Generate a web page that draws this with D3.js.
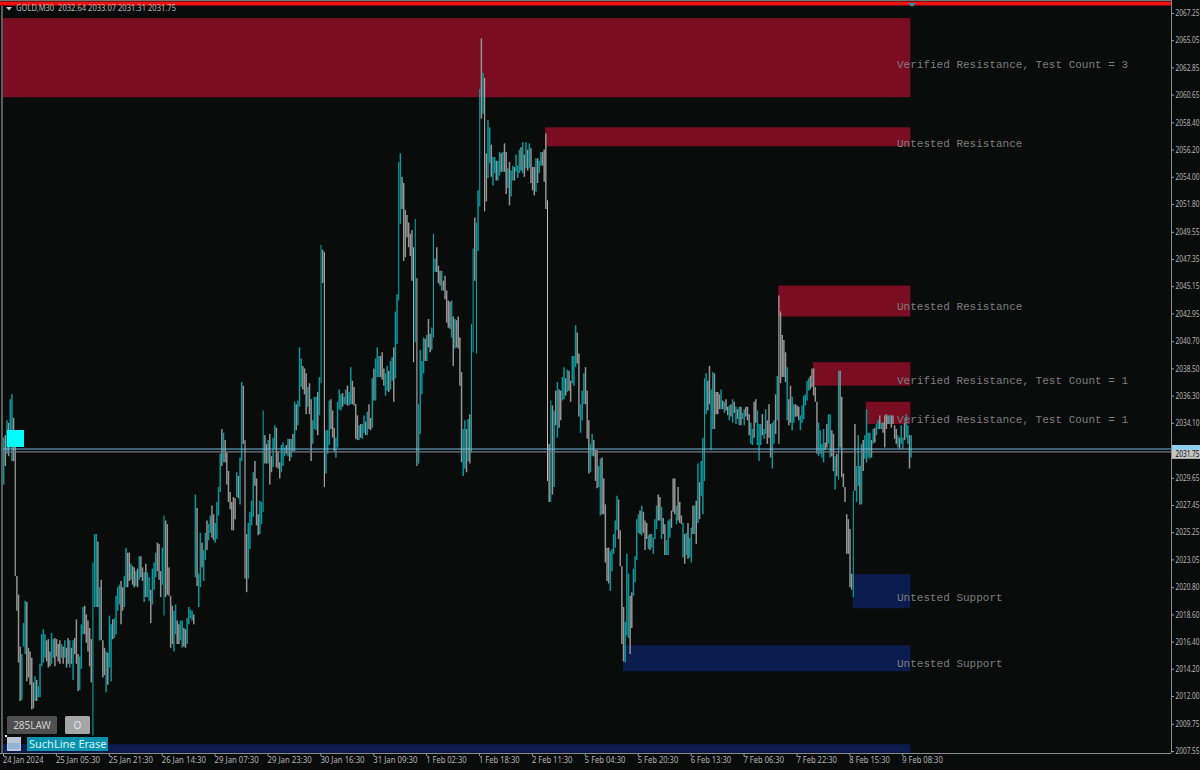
<!DOCTYPE html>
<html><head><meta charset="utf-8">
<script src="https://cdn.jsdelivr.net/npm/d3@7"></script>
<style>
html,body{margin:0;padding:0;background:#0a0c0c;overflow:hidden}
svg{display:block}
.tk text{font-family:"Noto Sans",sans-serif;font-size:8.6px;fill:#b4b4b4}
.zl{font-family:"Liberation Mono",monospace;font-size:11px;fill:#7d7d7d}
</style></head><body>
<script>
// Prices are stored as offsets above this base
const priceBase = 2000;
const symbolLine = "GOLD,M30  2032.64 2033.07 2031.31 2031.75";
const bidPrice = 2031.75, askPrice = 2031.98;

const highsA=[32.9,33.1,34.3,34.1,36.0,36.4,34.5,33.2,21.7,20.2,16.0,15.4,17.9,19.7,19.6,15.9,15.6,15.1,13.1,13.6,13.3,12.8,14.6,17.0,17.4,17.0,16.5,16.6,15.6,17.1,16.6,16.7,16.6,16.2,16.5,16.2,16.0,16.5,15.9,16.7,16.5,15.9,16.5,16.7,18.2,15.4,15.2,17.8,19.2,19.3,18.6,18.1,17.5,16.6,22.8,25.1,25.1,24.5,20.8,21.4,16.5,15.9,15.6,15.5,18.5,17.8,18.2,18.3,20.1,20.8,21.0,21.3,20.8,21.7,24.0,23.6,23.6,22.7,22.5,22.4,22.1,22.3,23.3,23.3,22.4,22.0,22.7,22.0,21.6,20.6,22.3,22.8,23.6,24.4,24.3,22.1,24.0,26.6,26.2,25.9,22.4,20.1,19.3,18.9,19.4,18.1,17.8,18.1,18.1,17.5,17.4,18.3,19.2,19.0,18.9,18.6,28.3,27.2,21.9];
const lowsA=[29.1,30.6,31.6,31.4,32.1,31.0,31.0,21.7,18.9,14.7,11.6,11.7,16.0,15.4,13.2,13.5,12.9,10.9,11.0,11.6,11.6,11.9,11.9,14.4,14.7,15.1,14.8,14.3,14.4,14.6,15.1,14.4,15.2,14.8,14.6,15.1,14.6,15.1,14.3,14.6,14.3,14.6,13.3,15.4,14.6,12.4,12.5,14.2,17.0,17.0,16.3,15.6,14.4,13.1,8.8,19.2,19.2,19.2,16.5,16.5,13.5,13.7,12.3,12.9,14.3,13.2,16.6,16.7,17.0,18.9,19.4,17.8,18.9,19.2,20.8,20.8,21.3,21.4,21.0,20.8,20.9,20.8,21.4,21.6,21.3,19.6,20.0,20.0,19.7,17.9,19.4,20.6,21.6,22.1,21.4,20.0,21.0,18.5,20.0,20.2,20.1,15.9,16.2,15.6,17.0,16.2,16.2,16.5,15.9,16.0,15.9,16.2,17.8,18.3,18.1,17.8,21.6,20.9,19.2];
const dirsA="u d u d u u d d d d d u u u d d d d d u d u u u u u d d d u u d d d d u d u d d u d u d d d u u u d d d d d u u u d u d d d u d u u d u u u u d d u u d d u d d u d u d d u d u u d u u u d d d u u d d d d d u u d d u u d d u u u u d u d u".split(" ");

const highsB=[25.2,24.4,23.8,25.2,26.2,25.9,26.6,27.4,26.7,26.0,27.7,28.9,31.6,33.6,33.3,32.7,31.7,30.2,28.5,27.7,28.1,28.0,30.1,29.8,31.3,37.4,37.1,32.7,25.1,26.0,26.9,27.8,30.1,31.0,29.6,26.7,27.8,27.7,35.1,33.1,32.4,32.7,33.2,31.4,32.9,33.9,33.7,31.8,30.9,32.3,32.5,32.1,32.3,32.8,32.8,32.8,33.2,35.8,35.6,35.9,40.2,39.3,38.7,38.5,38.1,37.0,37.3,36.0,34.3,36.2,36.2,36.6,37.8,48.5,48.1,47.9,33.5,33.5,35.9,36.0,35.1,33.7,32.9,35.8,36.8,36.4,36.5,36.2,36.8,37.1,36.6,38.6,37.5,37.0,35.6,34.7,33.9,34.0,34.0,34.7,34.2,35.0,35.6,34.5,37.7,38.5,39.3,40.2,39.5,39.5,39.8];
const lowsB=[20.8,22.4,21.3,23.0,23.8,24.6,25.2,24.8,24.6,24.4,24.7,26.6,28.5,30.6,30.9,30.9,29.1,27.7,27.1,25.4,25.4,26.3,28.1,28.0,27.5,31.0,32.4,21.5,20.4,21.5,23.9,25.8,26.5,29.0,25.8,25.0,25.1,25.9,26.9,30.8,30.8,30.8,29.1,30.1,30.5,32.0,30.5,30.4,29.6,30.1,30.6,31.4,31.6,31.4,31.0,31.3,31.8,31.8,33.5,33.9,35.4,37.0,36.8,36.4,34.8,35.4,34.8,31.0,32.4,33.6,33.5,33.1,34.7,37.3,45.4,28.9,30.0,31.6,32.3,33.6,32.9,31.8,31.3,32.1,35.2,35.1,35.4,35.6,35.6,35.5,35.5,35.6,35.6,35.5,32.8,32.7,32.7,32.9,32.8,33.3,33.1,33.1,33.6,33.5,33.7,35.9,35.9,37.8,37.8,37.8,37.6];
const dirsB="u d u u d u u d d u u u u d u d d d d d d d u d u u d d d u u u u d d d u u u d d u d d u u d d d u u u d u d u d u d u u u d d d u d d u u u d u u d d u u u d d d u u u u d u u d u u d d d d u d u u d u d d u d u u u d d".split(" ");

const highsC=[38.5,38.1,38.7,38.3,39.1,39.4,40.2,43.1,44.5,55.2,55.9,54.0,53.5,51.3,50.9,50.3,49.4,49.7,48.3,50.6,45.8,35.6,40.0,39.1,41.0,40.9,41.2,42.5,41.3,41.8,49.4,47.4,48.3,46.8,46.4,46.4,45.6,46.0,44.8,44.0,43.9,44.0,42.7,42.5,42.4,42.7,41.0,38.2,33.6,34.3,33.6,34.4,34.8,42.1,48.2,50.7,50.3,52.9];
const lowsC=[37.1,36.3,36.7,36.6,36.8,37.5,35.8,37.7,40.5,44.0,50.2,51.4,47.2,47.5,49.1,48.3,47.6,45.6,39.0,40.6,30.6,30.8,33.2,36.4,38.1,39.1,39.1,40.2,39.8,40.0,41.0,46.3,46.3,45.4,45.2,44.8,44.8,44.1,42.2,41.8,41.7,41.0,38.7,40.1,40.2,40.1,37.1,30.9,29.8,30.4,30.1,31.0,30.8,31.7,39.8,45.6,39.7,48.0];
const dirsC="d u u d u u d u u u u d d d d d d d d u d u u u u d u d d u u u d d d u d d d d d u d u d d d d u u d u d u u d u u".split(" ");

const highsD=[61.1,65.2,62.4,62.0,55.9,58.6,58.0,56.6,55.6,55.6,55.3,55.3,56.0,55.9,56.0,56.7,56.0,54.7,55.2,54.5,54.9,54.8,55.8,54.9,56.2,56.4,56.8,55.8,56.8,56.2,56.7,56.3,54.8,54.8,55.5,55.5,55.3,56.0,56.0,56.2,57.5];
const lowsD=[51.6,58.7,59.1,51.2,52.0,53.9,55.1,54.0,53.3,54.3,53.7,53.7,54.1,54.4,54.4,54.4,52.6,53.1,51.7,52.4,53.7,53.7,54.4,53.9,54.3,54.5,54.3,54.0,54.7,54.5,54.7,53.5,52.9,52.5,52.8,53.5,54.3,54.9,54.9,53.6,51.4];
const dirsD="u d u d d u u d u u d u u d u d d u d u u d u u u d u d u d u d d d u d u u d d d".split(" ");

const highsE=[52.1,32.4,35.9,35.5,35.1,36.7,37.4,36.8,36.7,37.8,38.6,37.7,38.4,38.3,37.5,39.5,39.5,42.0,41.4,39.7,35.6,36.7,38.1,38.6,36.7,34.3,32.4,33.2,32.7,31.9,31.9,30.6,31.2,31.3,29.6,27.5,24.0,24.0,23.7,23.9,25.1,26.2,28.2,27.9,25.4,22.5,19.2,18.0,23.5,21.9,20.1,20.4,22.3,23.3,26.3,26.7,27.0,27.4,26.9,26.2,26.0,25.0,25.1,25.1,24.8,26.3,27.4,28.3,28.1,27.3,26.4,25.9,24.6,26.2,26.3,27.0,29.6,29.6,27.4,28.9,27.7,26.6,26.0,25.1,25.2,26.0,24.8,25.6,27.4,27.4,27.8,30.8,29.3];
const lowsE=[29.4,27.7,27.7,28.3,28.9,33.9,32.9,33.7,34.3,35.9,36.0,36.3,36.6,36.7,35.8,37.3,37.1,38.6,38.9,34.6,33.3,34.3,35.6,35.6,32.8,30.0,30.1,31.4,31.4,29.4,28.8,28.9,26.6,26.7,26.7,22.8,21.3,21.1,20.5,22.1,23.5,24.0,25.4,24.7,22.5,16.2,14.8,14.7,16.9,16.7,15.4,17.5,20.1,21.2,23.0,25.2,25.1,25.0,25.2,23.8,24.7,23.9,23.8,24.0,23.5,24.7,25.5,26.2,26.2,24.7,25.1,23.4,23.4,23.4,24.8,25.6,26.9,26.7,25.9,26.2,26.0,25.9,23.2,22.7,23.4,23.1,23.2,22.8,25.1,25.1,24.3,26.0,26.3];
const dirsE="d d u d u d u d d u u d u d d u u u d d u u u d d d u u d d d u u d d d d d u u u u u d d d d u u u d d u u u u d u d d d u d u u u u d d u d d u u u d d d u d d d u d u d u u d u d u".split(" ");

const highsF=[31.0,32.9,37.7,38.1,37.5,38.7,36.8,38.2,38.1,36.6,36.6,36.4,36.8,35.9,35.8,36.0,35.4,35.5,35.6,36.0,35.8,35.4,35.2,35.4,35.4,34.9,35.2,35.4,35.4,34.8,34.1,33.6,35.8,36.0,35.1,34.0,34.0,34.8,33.6,35.2,34.3,35.6,34.0,34.1,34.3,36.4,37.9,44.4,43.1,41.2,40.8,39.8,38.6,36.0,37.1,36.2,35.6,35.6,35.5,35.4,34.7,35.5,36.3,36.4,37.5,37.7,37.9,38.5,38.5,37.0,35.8,34.1,33.5,32.4,33.6,32.5,34.0,34.8,34.8,33.5,33.2,31.4,31.6,38.3,38.3,36.2,30.0,28.9,26.7,26.3,25.5,21.9,28.6,34.0,30.6,33.1,30.6,32.4,32.7,33.1,35.2,33.3,33.3,32.7,33.6,33.7,34.0,34.3,34.7,34.1,34.1,34.7,34.8,34.7,34.7,34.7,34.7,33.9,33.6,33.1,32.9,33.9,32.9,34.1,34.8,33.9,33.1,33.1];
const lowsF=[28.2,26.7,29.4,34.8,35.1,35.6,31.9,33.6,33.6,34.8,34.8,35.2,35.2,35.2,34.9,35.1,34.7,34.3,34.6,34.1,34.9,34.0,34.4,33.9,33.9,34.4,33.9,34.6,34.3,33.1,32.4,32.3,32.9,34.1,32.3,31.0,32.3,33.1,32.8,33.2,32.4,32.9,31.3,30.4,32.4,33.2,34.3,32.4,37.3,37.8,37.8,37.4,34.3,33.9,34.1,33.5,34.1,34.6,34.6,34.3,33.5,34.1,34.4,35.5,35.9,36.7,36.8,37.0,36.3,35.8,31.6,31.4,31.6,31.3,30.9,31.9,32.1,32.4,31.3,31.4,30.2,28.7,29.8,29.5,32.1,29.7,28.9,27.7,23.5,23.5,20.8,20.6,20.0,28.6,27.7,29.0,27.5,27.5,30.2,31.2,30.9,31.3,31.2,31.3,32.4,32.5,33.1,33.6,33.6,33.6,33.3,32.1,33.6,34.0,34.0,33.7,34.0,32.8,32.4,32.1,32.0,32.4,32.0,32.7,32.9,32.4,30.4,31.3];
const dirsF="d u u u u d d u u d d d d u d u d d u d u d u d u d u u d d d u u d d u u u d u u d d d u u d u d d d d d u d d u u d d d u u u u u u d d d d d u u u u d d u u d d u d u d d d d d d d d u d u u d u d u u u u d u d u u d u d d d d u d d d d u d u u d u u d u u d d d".split(" ");

const highs=[...highsA,...highsB,...highsC,...highsD,...highsE,...highsF];
const lows=[...lowsA,...lowsB,...lowsC,...lowsD,...lowsE,...lowsF];
const dirs=[...dirsA,...dirsB,...dirsC,...dirsD,...dirsE,...dirsF];

const zoneLabels=["Verified Resistance, Test Count = 3","Untested Resistance","Untested Resistance","Verified Resistance, Test Count = 1","Verified Resistance, Test Count = 1","Untested Support","Untested Support",""];
const zoneTop=[2066.84,2058.0,2045.2,2039.0,2035.8,2021.85,2016.1,2008.1];
const zoneBottom=[2060.44,2056.47,2042.7,2037.1,2034.0,2019.1,2014.0,2007.4];
const zoneStart=[0,328,469,490,522,514,375,0];
const zoneKind=["r","r","r","r","r","s","s","s"];
const zoneLabelPrice=[2062.78,2056.43,2043.2,2037.25,2034.1,2019.72,2014.33];

const yTicks=[2067.25,2065.05,2062.85,2060.65,2058.40,2056.20,2054.00,2051.80,2049.55,2047.35,2045.15,2042.95,2040.70,2038.50,2036.30,2034.10,2029.65,2027.45,2025.25,2023.05,2020.80,2018.60,2016.40,2014.20,2012.00,2009.75,2007.55];
const xLabels=["24 Jan 2024","25 Jan 05:30","25 Jan 21:30","26 Jan 14:30","29 Jan 07:30","29 Jan 23:30","30 Jan 16:30","31 Jan 09:30","1 Feb 02:30","1 Feb 18:30","2 Feb 11:30","5 Feb 04:30","5 Feb 20:30","6 Feb 13:30","7 Feb 06:30","7 Feb 22:30","8 Feb 15:30","9 Feb 08:30"];
const barsPerLabel=32, barsOnChart=549;

const W=1200,H=770,axisX=1171,axisY=753;
const svg=d3.select("body").append("svg").attr("width",W).attr("height",H);
svg.append("rect").attr("width",W).attr("height",H).attr("fill","#0a0c0c");
const x=d3.scaleLinear().domain([0,barsOnChart]).range([3,910.5]);
const y=d3.scaleLinear().domain([2007.55,2067.25]).range([751,13]);

// zones
const zones=zoneTop.map((t,i)=>({t,b:zoneBottom[i],s:zoneStart[i],k:zoneKind[i],l:zoneLabels[i],lp:zoneLabelPrice[i]}));
svg.append("g").selectAll("rect").data(zones).join("rect")
 .attr("x",d=>x(d.s)).attr("width",d=>x(barsOnChart-0.1)-x(d.s))
 .attr("y",d=>y(d.t)).attr("height",d=>y(d.b)-y(d.t))
 .attr("fill",d=>d.k==="r"?"#7a0d22":"#0b1c4f");

// candles
const n=Math.min(highs.length,lows.length,dirs.length);
if(highs.length!==lows.length||highs.length!==dirs.length) console.error("length mismatch",highs.length,lows.length,dirs.length);
const bars=d3.range(n).map(i=>({i,h:priceBase+highs[i],l:priceBase+lows[i],u:dirs[i]==="u"}));
svg.append("g").selectAll("line").data(bars).join("line")
 .attr("x1",d=>x(d.i+0.4)).attr("x2",d=>x(d.i+0.4))
 .attr("y1",d=>y(d.h)).attr("y2",d=>y(d.l))
 .attr("stroke-width",d=>d.h-d.l>8?1:1.5)
 .attr("stroke",d=>d.u?(d.h-d.l>8?"#00aeb2":"#0a979c"):(d.h-d.l>8?"#bdbdbd":"#949494"));

// bid/ask lines
svg.append("line").attr("x1",3).attr("x2",axisX).attr("y1",y(askPrice)).attr("y2",y(askPrice)).attr("stroke","#6fb9dd").attr("stroke-width",1.2);
svg.append("line").attr("x1",3).attr("x2",axisX).attr("y1",y(bidPrice)).attr("y2",y(bidPrice)).attr("stroke","#6e7a80").attr("stroke-width",1.2);

// zone labels
svg.append("g").selectAll("text").data(zones.filter(d=>d.l)).join("text").attr("class","zl")
 .attr("x",897).attr("y",d=>y(d.lp)).text(d=>d.l);

// frame
svg.append("rect").attr("x",0).attr("y",0).attr("width",axisX).attr("height",1).attr("fill","#777");
svg.append("rect").attr("x",0).attr("y",1.5).attr("width",axisX).attr("height",4).attr("fill","#ee1111");
svg.append("rect").attr("x",1).attr("y",6).attr("width",2).attr("height",axisY-6).attr("fill","#5c5c5c");
svg.append("path").attr("d","M908,3h8l-4,4z").attr("fill","#2a9aa0");

// axes
const gy=svg.append("g").attr("class","tk").attr("transform",`translate(${axisX},0)`)
 .call(d3.axisRight(y).tickValues(yTicks).tickSize(3).tickPadding(1.5).tickFormat(d3.format(".2f")));
const gx=svg.append("g").attr("class","tk").attr("transform",`translate(0,${axisY})`)
 .call(d3.axisBottom(x).tickValues(xLabels.map((_,i)=>i*barsPerLabel)).tickSize(3).tickPadding(1).tickFormat((d,i)=>xLabels[i]));
gy.selectAll("text").attr("textLength",24).attr("lengthAdjust","spacingAndGlyphs");
gx.selectAll("text").attr("text-anchor","start").attr("dx",-0.5)
 .attr("textLength",d=>xLabels[d/barsPerLabel].length*3.68).attr("lengthAdjust","spacingAndGlyphs");
[gy,gx].forEach(g=>{g.selectAll("path.domain").attr("stroke","#8c8c8c");g.selectAll(".tick line").attr("stroke","#9a9a9a");});
gx.select("path.domain").attr("d",`M0,0.5H${axisX}`);
gy.select("path.domain").attr("d",`M0.5,0V${axisY}`);

// price tags
const tags=svg.append("g");
tags.append("rect").attr("x",axisX+1).attr("y",y(askPrice)-4).attr("width",29).attr("height",6).attr("fill","#8fd0f0");
tags.append("rect").attr("x",axisX+1).attr("y",y(bidPrice)-2).attr("width",29).attr("height",9).attr("fill","#c4c4c4");
tags.append("text").attr("x",axisX+4.5).attr("y",y(bidPrice)+5.5).attr("font-family","Noto Sans").attr("font-size",8.6).attr("textLength",24).attr("lengthAdjust","spacingAndGlyphs").attr("fill","#111").text(d3.format(".2f")(bidPrice));

// header
svg.append("path").attr("d","M6,7h6l-3,3.5z").attr("fill","#c8c8c8");
svg.append("text").attr("x",16).attr("y",11).attr("font-family","Noto Sans").attr("font-size",8.6).attr("textLength",160).attr("lengthAdjust","spacingAndGlyphs").attr("fill","#b4b4b4").style("white-space","pre").text(symbolLine);

// overlays
svg.append("rect").attr("x",7).attr("y",430).attr("width",17).attr("height",17).attr("fill","#00ffff");
const ui=svg.append("g").attr("font-family","Noto Sans");
ui.append("rect").attr("x",7).attr("y",716).attr("width",50).attr("height",18).attr("rx",1.5).attr("fill","#4f4f4f");
ui.append("text").attr("x",32).attr("y",729).attr("text-anchor","middle").attr("font-size",10).attr("fill","#cfcfcf").text("285LAW");
ui.append("rect").attr("x",65).attr("y",716).attr("width",25).attr("height",18).attr("rx",1.5).attr("fill","#a6a6a6");
ui.append("text").attr("x",77.5).attr("y",729).attr("text-anchor","middle").attr("font-size",10).attr("fill","#e4e4e4").text("O");
ui.append("rect").attr("x",7).attr("y",737).attr("width",14).attr("height",14).attr("fill","#bcc6d6");
ui.append("rect").attr("x",8).attr("y",743).attr("width",12).attr("height",6).attr("fill","#8fb4d8");
ui.append("rect").attr("x",5).attr("y",735).attr("width",2).attr("height",2).attr("fill","#eee");
ui.append("rect").attr("x",27).attr("y",737).attr("width",81).attr("height",14).attr("fill","#0b93ad");
ui.append("text").attr("x",29).attr("y",748).attr("font-size",11).attr("fill","#d6f4f4").text("SuchLine Erase");
</script></body></html>
